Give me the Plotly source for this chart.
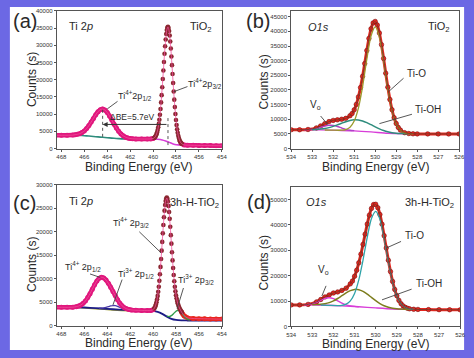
import plotly.graph_objects as go

W, H = 474, 358

# ---------------- data ----------------
# (a) Ti 2p, TiO2
A_BE = [468.5, 468.0, 467.5, 467.0, 466.8, 466.6, 466.4, 466.2, 466.0, 465.8,
        465.6, 465.4, 465.2, 465.0, 464.8, 464.6, 464.4, 464.2, 464.0, 463.8,
        463.6, 463.4, 463.2, 463.0, 462.8, 462.6, 462.4, 462.2, 462.0, 461.8,
        461.5, 461.0, 460.5, 460.2, 460.0, 459.9, 459.8, 459.7, 459.6, 459.5,
        459.4, 459.3, 459.2, 459.1, 459.0, 458.9, 458.8, 458.7, 458.6, 458.5,
        458.4, 458.3, 458.2, 458.1, 458.0, 457.9, 457.8, 457.7, 457.6, 457.5,
        457.3, 457.0, 456.5, 456.0, 455.5, 455.0, 454.5, 454.0]
A_CNT = [3850, 3850, 3850, 3900, 4010, 4130, 4320, 4640, 5120, 5800,
         6660, 7680, 8760, 9840, 10720, 11300, 11460, 11180, 10480, 9480,
         8280, 7080, 5950, 5000, 4230, 3680, 3310, 3060, 2920, 2825,
         2780, 2760, 2760, 2800, 2920, 3070, 3470, 4170, 5350, 7160,
         9810, 13410, 17800, 22670, 27520, 31660, 34460, 35350, 34160, 31110,
         26720, 21650, 16550, 12030, 8310, 5580, 3720, 2500, 1780, 1370,
         1060, 980, 940, 900, 870, 850, 820, 800]
# dense raw points measured across the Ti4+ 2p3/2 peak
A_DOT_BE = [459.90, 459.85, 459.80, 459.75, 459.70, 459.65, 459.60, 459.55, 459.50, 459.45,
            459.40, 459.35, 459.30, 459.25, 459.20, 459.15, 459.10, 459.05, 459.00, 458.95,
            458.90, 458.85, 458.80, 458.75, 458.70, 458.65, 458.60, 458.55, 458.50, 458.45,
            458.40, 458.35, 458.30, 458.25, 458.20, 458.15, 458.10, 458.05, 458.00, 457.95,
            457.90, 457.85, 457.80, 457.75, 457.70, 457.65, 457.60, 457.55, 457.50]
A_DOT = [3070, 3260, 3470, 3780, 4170, 4680, 5350, 6170, 7160, 8370,
         9810, 11500, 13410, 15510, 17800, 20190, 22670, 25130, 27520, 29740,
         31660, 33280, 34460, 35150, 35350, 35010, 34160, 32850, 31110, 29060,
         26720, 24220, 21650, 19050, 16550, 14200, 12030, 10050, 8310, 6820,
         5580, 4570, 3720, 3030, 2500, 2090, 1780, 1545, 1370]
A_BG1_BE = [466.6, 466.2, 465.8, 465.4, 465.0, 464.6, 464.2, 463.8, 463.4, 463.0, 462.6, 462.2, 461.6, 461.0]
A_BG1 = [3840, 3770, 3680, 3570, 3440, 3320, 3200, 3080, 2970, 2880, 2810, 2770, 2750, 2750]
A_BG2_BE = [461.0, 460.0, 459.6, 459.2, 458.9, 458.7, 458.5, 458.3, 458.1, 457.8, 457.4, 457.0, 456.0, 455.0, 454.0]
A_BG2 = [2750, 2750, 2680, 2500, 2200, 1950, 1650, 1380, 1170, 1050, 990, 970, 900, 850, 800]
A_PEAKS = [464.4, 458.7]          # Ti4+ 2p1/2, 2p3/2 binding energies

# (b) O1s, TiO2
B_BE = [534.0, 533.6, 533.2, 532.8, 532.6, 532.4, 532.2, 532.0, 531.8, 531.6,
        531.4, 531.2, 531.1, 531.0, 530.9, 530.8, 530.7, 530.6, 530.5, 530.4,
        530.3, 530.2, 530.1, 530.0, 529.9, 529.8, 529.7, 529.6, 529.5, 529.4,
        529.3, 529.2, 529.1, 529.0, 528.9, 528.8, 528.6, 528.4, 528.2, 528.0,
        527.5, 527.0, 526.5, 526.0]
B_CNT = [6400, 6410, 6500, 7050, 7700, 8500, 9200, 9600, 9800, 10000,
         10300, 11200, 11950, 13200, 15060, 17600, 20800, 24670, 28990, 33440,
         37560, 40870, 42900, 43390, 42170, 39430, 35460, 30730, 25740, 20960,
         16740, 13250, 10530, 8560, 7190, 6290, 5410, 5120, 5030, 5000,
         5000, 4990, 4980, 4970]
B_TIO_BE = [532.4, 532.0, 531.6, 531.4, 531.2, 531.0, 530.8, 530.6, 530.4, 530.2,
            530.0, 529.8, 529.6, 529.4, 529.2, 529.0, 528.8, 528.6, 528.4, 528.2]
B_TIO = [6330, 6255, 6250, 6470, 7250, 9370, 13820, 21160, 30400, 38410,
         41540, 38130, 29880, 20450, 12960, 8410, 6210, 5370, 5100, 5025]
B_OH_BE = [533.0, 532.8, 532.6, 532.4, 532.2, 532.0, 531.8, 531.6, 531.4, 531.2, 531.0, 530.8,
           530.6, 530.4, 530.2, 530.0, 529.8, 529.6, 529.4, 529.2, 529.0, 528.8, 528.6, 528.4]
B_OH = [6435, 6530, 6650, 6840, 7140, 7550, 8060, 8630, 9170, 9600, 9810, 9750,
        9410, 8840, 8140, 7390, 6700, 6130, 5700, 5410, 5230, 5130, 5070, 5040]
B_VO_BE = [533.4, 533.2, 533.0, 532.8, 532.6, 532.4, 532.2, 532.0, 531.8, 531.6, 531.4, 531.2, 531.0]
B_VO = [6415, 6455, 6570, 6800, 7200, 7650, 7940, 7900, 7530, 7010, 6550, 6260, 6095]
B_BG_BE = [533.4, 532.6, 531.8, 531.0, 530.2, 529.4, 528.6, 528.2]
B_BG = [6400, 6360, 6210, 6040, 5680, 5190, 5030, 5010]

# (c) Ti 2p, 3h-H-TiO2
C_BE = [468.5, 468.0, 467.5, 467.0, 466.7, 466.5, 466.3, 466.1, 465.9, 465.7,
        465.5, 465.3, 465.1, 464.9, 464.7, 464.5, 464.3, 464.1, 463.9, 463.7,
        463.5, 463.3, 463.1, 462.9, 462.7, 462.5, 462.3, 462.1, 461.9, 461.5,
        461.0, 460.5, 460.2, 460.0, 459.9, 459.8, 459.7, 459.6, 459.5, 459.4,
        459.3, 459.2, 459.1, 459.0, 458.9, 458.8, 458.7, 458.6, 458.5, 458.4,
        458.3, 458.2, 458.1, 458.0, 457.9, 457.8, 457.7, 457.6, 457.5, 457.4,
        457.3, 457.2, 457.0, 456.5, 456.0, 455.5, 455.0, 454.5, 454.0]
C_CNT = [3900, 3890, 3880, 3910, 4020, 4155, 4385, 4730, 5250, 5950,
         6795, 7755, 8695, 9505, 10082, 10296, 10153, 9685, 9001, 8183,
         7279, 6379, 5513, 4766, 4200, 3798, 3551, 3410, 3328, 3260,
         3220, 3180, 3205, 3380, 3640, 4130, 4980, 6320, 8270, 10940,
         14190, 17840, 21440, 24510, 26570, 27200, 26448, 24224, 21075, 17463,
         13887, 10772, 8277, 6465, 5210, 4350, 3730, 3245, 2817, 2417,
         2100, 1900, 1650, 1500, 1450, 1420, 1400, 1380, 1370]
C_DOT_BE = [459.90, 459.85, 459.80, 459.75, 459.70, 459.65, 459.60, 459.55, 459.50, 459.45,
            459.40, 459.35, 459.30, 459.25, 459.20, 459.15, 459.10, 459.05, 459.00, 458.95,
            458.90, 458.85, 458.80, 458.75, 458.70, 458.65, 458.60, 458.55, 458.50, 458.45,
            458.40, 458.35, 458.30, 458.25, 458.20, 458.15, 458.10, 458.05, 458.00, 457.95,
            457.90, 457.85, 457.80, 457.75, 457.70, 457.65, 457.60, 457.55, 457.50]
C_DOT = [3640, 3850, 4130, 4500, 4980, 5590, 6320, 7205, 8270, 9525,
         10940, 12500, 14190, 15970, 17840, 19660, 21440, 23090, 24510, 25705,
         26570, 27075, 27290, 27055, 26448, 25496, 24224, 22756, 21074, 19281,
         17463, 15627, 13892, 12265, 10775, 9447, 8276, 7288, 6462, 5792,
         5215, 4743, 4350, 4023, 3735, 3482, 3242, 3023, 2816]
C_BG_BE = [468.5, 467.0, 466.0, 465.0, 464.0, 463.0, 462.0, 461.0, 460.4, 460.0,
           459.6, 459.2, 458.8, 458.4, 458.0, 457.5, 457.0, 456.0, 455.0, 454.0]
C_BG = [3950, 3920, 3840, 3700, 3550, 3400, 3300, 3220, 3170, 3100,
        2900, 2480, 1900, 1420, 1190, 1100, 1070, 1050, 1050, 1050]
C_OL_BE = [466.5, 465.0, 463.5, 462.0, 460.5]
C_OL = [3800, 3550, 3300, 3100, 2950]
C_T3A_BE = [458.8, 458.6, 458.4, 458.2, 458.0, 457.9, 457.8, 457.7, 457.6, 457.4, 457.2, 457.0, 456.8]
C_T3A = [1992, 1914, 2103, 2552, 3045, 3190, 3240, 3150, 2965, 2362, 1763, 1354, 1157]
C_T3B_BE = [464.7, 464.5, 464.3, 464.1, 463.9, 463.7, 463.5, 463.3, 463.1, 462.9, 462.7, 462.5, 462.3, 462.1]
C_T3B = [3682, 3696, 3753, 3865, 4021, 4173, 4259, 4229, 4083, 3876, 3670, 3508, 3401, 3337]

# (d) O1s, 3h-H-TiO2
D_BE = [534.0, 533.6, 533.2, 532.8, 532.6, 532.4, 532.2, 532.0, 531.8, 531.6,
        531.4, 531.2, 531.1, 531.0, 530.9, 530.8, 530.7, 530.6, 530.5, 530.4,
        530.3, 530.2, 530.1, 530.0, 529.9, 529.8, 529.7, 529.6, 529.5, 529.4,
        529.3, 529.2, 529.1, 529.0, 528.9, 528.8, 528.7, 528.6, 528.5, 528.4,
        528.2, 528.0, 527.5, 527.0, 526.5, 526.0]
D_CNT = [8500, 8510, 8705, 9690, 10640, 11660, 12415, 13200, 13600, 14200,
         15100, 16800, 17905, 19790, 22170, 25085, 28490, 32340, 36380, 40330,
         43840, 46520, 48020, 48150, 46800, 44110, 40300, 35760, 30900, 26080,
         21630, 17770, 14590, 12120, 10280, 8980, 8105, 7530, 7180, 6968,
         6778, 6713, 6650, 6620, 6590, 6560]
D_TIO_BE = [532.6, 532.2, 531.8, 531.6, 531.4, 531.2, 531.0, 530.8, 530.6, 530.4, 530.2,
            530.0, 529.8, 529.6, 529.4, 529.2, 529.0, 528.8, 528.6, 528.4, 528.2]
D_TIO = [8430, 8320, 8250, 8348, 8790, 10090, 13010, 18340, 26170, 35140, 42510,
         45310, 42270, 34670, 25480, 17470, 11980, 8920, 7510, 6968, 6778]
D_OH_BE = [533.0, 532.8, 532.6, 532.4, 532.2, 532.0, 531.8, 531.6, 531.4, 531.2, 531.0, 530.8,
           530.6, 530.4, 530.2, 530.0, 529.8, 529.6, 529.4, 529.2, 529.0, 528.8, 528.6, 528.4]
D_OH = [8555, 8610, 8730, 8980, 9410, 10100, 11030, 12130, 13230, 14130, 14600, 14500,
        13840, 12740, 11440, 10150, 9030, 8170, 7580, 7200, 6980, 6850, 6780, 6740]
D_VO_BE = [533.4, 533.2, 533.0, 532.8, 532.6, 532.4, 532.2, 532.0, 531.8, 531.6, 531.4, 531.2, 531.0, 530.8]
D_VO = [8550, 8680, 8990, 9550, 10340, 11060, 11320, 10940, 10100, 9200, 8530, 8140, 7920, 7775]
D_BG_BE = [533.4, 532.4, 531.6, 530.8, 530.0, 529.2, 528.4, 528.0]
D_BG = [8500, 8380, 8120, 7770, 7310, 6900, 6740, 6700]

TI_TICKS = [468, 466, 464, 462, 460, 458, 456, 454]
O_TICKS = [534, 533, 532, 531, 530, 529, 528, 527, 526]

# ---------------- style ----------------
PINK = "#E0177D"
MAROON = "#8A2630"
RED = "#E8261E"
TEAL = "#2E8C7C"
MAG = "#D83DD8"
OLIVE = "#9A9A2C"
PURPLE = "#B040C8"
NAVY = "#1C1C86"
GREEN = "#2E9A4A"
BROWN = "#7E3A2A"
TXT = "#2a2a2a"
FONT = "Liberation Sans, Arial, sans-serif"

fig = go.Figure()


def add(tr, k):
    tr.update(xaxis='x' if k == 1 else f'x{k}', yaxis='y' if k == 1 else f'y{k}',
              showlegend=False, hoverinfo='skip')
    fig.add_trace(tr)


def curve(x, y, color, width=1.2, dash=None):
    return go.Scatter(x=x, y=y, mode='lines',
                      line=dict(color=color, width=width, dash=dash, shape='spline', smoothing=0.7))


def band(x, y, keep, color, width):
    yy = [v if k else None for v, k in zip(y, keep)]
    return go.Scatter(x=x, y=yy, mode='lines', connectgaps=False,
                      line=dict(color=color, width=width, shape='spline', smoothing=0.5))


def dots(x, y, color, size=5, outline=None):
    return go.Scatter(x=x, y=y, mode='markers',
                      marker=dict(size=size, color=color,
                                  line=dict(width=0.6 if outline else 0, color=outline or color)))


# (a)
add(curve(A_BG1_BE, A_BG1, TEAL, 1.6), 1)
add(curve(A_BG2_BE, A_BG2, MAG, 1.6), 1)
a_side = [not (457.5 < x < 460.0) for x in A_BE]
add(band(A_BE, A_CNT, a_side, PINK, 4.5), 1)
add(dots([x for x, s in zip(A_BE, a_side) if s], [y for y, s in zip(A_CNT, a_side) if s], PINK, 5), 1)
add(dots(A_DOT_BE, A_DOT, MAROON, 4.6), 1)
add(curve(A_BE, A_CNT, "#F0509A", 0.8), 1)

# (b)
add(curve(B_BG_BE, B_BG, MAG, 1.4), 2)
add(go.Scatter(x=B_BE, y=B_CNT, mode='lines', line=dict(color=RED, width=3, shape='spline', smoothing=0.5)), 2)
add(dots(B_BE, B_CNT, RED, 4.5, "#7a1010"), 2)
add(curve(B_VO_BE, B_VO, PURPLE, 1.4), 2)
add(curve(B_OH_BE, B_OH, TEAL, 1.5), 2)
add(curve(B_TIO_BE, B_TIO, OLIVE, 1.3), 2)
add(curve(B_BE, B_CNT, BROWN, 1.0), 2)

# (c)
add(curve(C_OL_BE, C_OL, OLIVE, 1.3), 3)
add(curve(C_BG_BE, C_BG, NAVY, 1.8), 3)
add(curve(C_T3B_BE, C_T3B, "#4a3aa8", 1.3), 3)
c_left = [x >= 460.0 for x in C_BE]
c_right = [x <= 457.5 for x in C_BE]
add(band(C_BE, C_CNT, c_left, PINK, 4.5), 3)
add(band(C_BE, C_CNT, c_right, RED, 4.0), 3)
add(dots([x for x, s in zip(C_BE, c_left) if s], [y for y, s in zip(C_CNT, c_left) if s], PINK, 5), 3)
add(dots([x for x, s in zip(C_BE, c_right) if s], [y for y, s in zip(C_CNT, c_right) if s], RED, 5), 3)
add(curve(C_T3A_BE, C_T3A, GREEN, 1.3), 3)
add(dots(C_DOT_BE, C_DOT, MAROON, 4.6), 3)
add(curve(C_BE, C_CNT, "#F0509A", 0.8), 3)

# (d)
add(curve(D_BG_BE, D_BG, MAG, 1.4), 4)
add(go.Scatter(x=D_BE, y=D_CNT, mode='lines', line=dict(color=RED, width=3, shape='spline', smoothing=0.5)), 4)
add(dots(D_BE, D_CNT, RED, 4.5, "#7a1010"), 4)
add(curve(D_VO_BE, D_VO, MAG, 1.4), 4)
add(curve(D_OH_BE, D_OH, "#7d7d1e", 1.5), 4)
add(curve(D_TIO_BE, D_TIO, "#2FA3A8", 1.3), 4)
add(curve(D_BE, D_CNT, BROWN, 1.0), 4)

# ---------------- axes ----------------
def px(x):
    return x / W


def py(y):
    return 1 - y / H


PANELS = {
    1: dict(xd=(53, 222), yd=(8, 148), xr=[468.4, 454], yr=[0, 40000], xt=TI_TICKS, dy=5000),
    2: dict(xd=(293, 465), yd=(8, 148), xr=[534, 526], yr=[0, 47000], xt=O_TICKS, dy=5000),
    3: dict(xd=(53, 222), yd=(185, 328), xr=[468.4, 454], yr=[0, 30000], xt=TI_TICKS, dy=5000),
    4: dict(xd=(293, 466), yd=(187, 329), xr=[534, 526], yr=[0, 55000], xt=O_TICKS, dy=10000),
}
lay = {}
for k, p in PANELS.items():
    s = '' if k == 1 else str(k)
    common = dict(showline=True, linecolor="#555", linewidth=1, mirror=True, ticks='outside',
                  ticklen=2, tickcolor="#555", showgrid=False, zeroline=False,
                  tickfont=dict(family=FONT, size=6, color="#333"), fixedrange=True)
    lay['xaxis' + s] = dict(common, domain=[px(p['xd'][0]), px(p['xd'][1])], range=p['xr'],
                            tickvals=p['xt'], anchor='y' + s)
    lay['yaxis' + s] = dict(common, domain=[py(p['yd'][1]), py(p['yd'][0])], range=p['yr'],
                            dtick=p['dy'], tickformat='d', anchor='x' + s)
fig.update_layout(**lay)

# ---------------- annotations ----------------
ann = []
shapes = []


def ptext(text, x, y, size=11, xanchor='center', angle=0):
    ann.append(dict(text=text, x=px(x), y=py(y), xref='paper', yref='paper', showarrow=False,
                    xanchor=xanchor, yanchor='middle', textangle=angle,
                    font=dict(family=FONT, size=size, color=TXT)))


# panel letters
ptext("(a)", 20, 18, 20)
ptext("(b)", 259, 18, 20)
ptext("(c)", 20, 203, 20)
ptext("(d)", 260, 202, 20)
# headers
ptext("Ti 2<i>p</i>", 63, 23, 11, xanchor='left')
ptext("TiO<sub>2</sub>", 214, 24, 11, xanchor='right')
ptext("<i>O1s</i>", 308, 24, 11, xanchor='left')
ptext("TiO<sub>2</sub>", 458, 24, 11, xanchor='right')
ptext("Ti 2<i>p</i>", 63, 201, 11, xanchor='left')
ptext("3h-H-TiO<sub>2</sub>", 221, 203, 11, xanchor='right')
ptext("<i>O1s</i>", 306, 202, 11, xanchor='left')
ptext("3h-H-TiO<sub>2</sub>", 462, 203, 11, xanchor='right')
# axis titles
for cx, cy in [(137, 167), (379, 167), (137, 346), (379, 347)]:
    ptext("Binding Energy (eV)", cx, cy, 12)
for cx, cy in [(27, 78), (265, 80), (27, 266), (265, 264)]:
    ptext("Counts (s)", cx, cy, 12, angle=-90)
# peak labels
ptext("Ti<sup>4+</sup>2p<sub>1/2</sub>", 133, 94, 9)
ptext("Ti<sup>4+</sup>2p<sub>3/2</sub>", 205, 82, 9)
ptext("ΔBE=5.7eV", 131, 116, 8.5)
ptext("Ti-O", 421, 72, 10)
ptext("Ti-OH", 433, 108, 10)
ptext("V<sub>o</sub>", 318, 104, 10)
ptext("Ti<sup>4+</sup> 2p<sub>3/2</sub>", 129, 223, 9)
ptext("Ti<sup>4+</sup> 2p<sub>1/2</sub>", 80, 268, 9)
ptext("Ti<sup>3+</sup> 2p<sub>1/2</sub>", 134, 275, 9)
ptext("Ti<sup>3+</sup> 2p<sub>3/2</sub>", 196, 281, 9)
ptext("Ti-O", 419, 236, 10)
ptext("Ti-OH", 434, 285, 10)
ptext("V<sub>o</sub>", 326, 272, 10)

# Delta BE arrow in (a)
ann.append(dict(x=A_PEAKS[0], y=7000, ax=A_PEAKS[1], ay=7000, xref='x', yref='y', axref='x', ayref='y',
                showarrow=True, arrowhead=2, arrowsize=1, arrowwidth=1, arrowcolor="#333", text=""))


def seg(k, x0, y0, x1, y1, dash=None, color="#444"):
    s = '' if k == 1 else str(k)
    shapes.append(dict(type='line', xref='x' + s, yref='y' + s, x0=x0, y0=y0, x1=x1, y1=y1,
                       line=dict(color=color, width=0.9, dash=dash)))


seg(1, A_PEAKS[0], 3400, A_PEAKS[0], 11300, 'dot')
seg(1, A_PEAKS[1], 1000, A_PEAKS[1], 9300, 'dot')
seg(1, 463.1, 13700, 464.0, 11500)
seg(1, 457.0, 18000, 458.2, 16500)
seg(2, 528.65, 24000, 529.35, 19500)
seg(2, 528.25, 11700, 529.8, 8500)
seg(2, 532.6, 11100, 532.25, 8100)
seg(3, 461.2, 20000, 459.3, 15500)
seg(3, 465.5, 11000, 464.6, 10250)
seg(3, 462.7, 9800, 463.5, 4400)
seg(3, 457.35, 8000, 457.9, 3600)
seg(4, 528.8, 33500, 529.5, 30900)
seg(4, 528.3, 14700, 529.7, 10500)
seg(4, 532.35, 16000, 532.55, 12000)

# white page inside the blue frame
shapes.insert(0, dict(type='rect', xref='paper', yref='paper', x0=px(5), x1=px(470), y0=py(353), y1=py(4),
                      fillcolor='white', line=dict(width=0), layer='below'))

fig.update_layout(width=W, height=H, autosize=False, margin=dict(l=0, r=0, t=0, b=0, pad=0),
                  paper_bgcolor="#6c68e4", plot_bgcolor="white",
                  annotations=ann, shapes=shapes, font=dict(family=FONT, color=TXT))

fig.write_html("out.html", include_plotlyjs=True, config={'displayModeBar': False},
               post_script="document.body.style.margin='0';document.body.style.overflow='hidden';")
